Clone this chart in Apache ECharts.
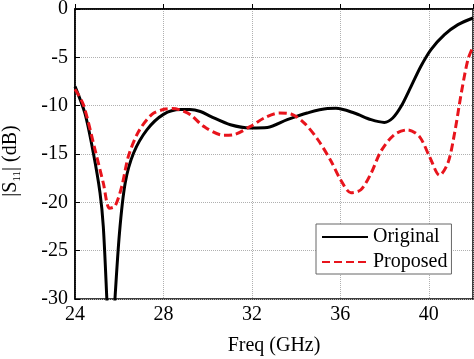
<!DOCTYPE html>
<html>
<head>
<meta charset="utf-8">
<script src="https://cdn.jsdelivr.net/npm/echarts@6/dist/echarts.min.js"></script>
<style>html,body{margin:0;padding:0;background:#fff}#c{width:474px;height:359px}</style>
</head>
<body>
<div id="c"></div>
<script>
var xTicks = [24, 28, 32, 36, 40];
var yTicks = [0, -5, -10, -15, -20, -25, -30];

var origFreq = [24, 24.45, 24.83, 25.13, 25.28, 25.45, 25.6, 25.78, 26.01, 26.27, 26.65, 27.25, 28.0, 28.76, 29.2, 29.67, 30.13, 31.03, 31.94, 32.7, 33.6, 34.5, 35.42, 35.8, 36.63, 37.39, 37.99, 38.37, 38.75, 39.2, 39.65, 40.1, 40.71, 41.32, 42];
var origVal  = [-8.0, -10.8, -14.9, -19.0, -22.5, -30.5, -38, -31, -23.2, -18.0, -14.9, -12.5, -10.9, -10.4, -10.4, -10.6, -11.1, -11.97, -12.3, -12.25, -11.45, -10.76, -10.3, -10.28, -10.76, -11.45, -11.73, -11.28, -10.07, -8.0, -5.9, -4.2, -2.66, -1.62, -0.93];

var propFreq = [24, 24.38, 24.91, 25.28, 25.56, 25.81, 26.12, 26.42, 26.87, 27.48, 28.08, 28.4, 28.76, 29.22, 29.82, 30.73, 31.19, 31.94, 32.55, 33.23, 33.77, 34.37, 34.98, 35.57, 36.02, 36.48, 36.93, 37.39, 37.84, 38.44, 39.05, 39.58, 40.03, 40.49, 40.87, 41.17, 41.47, 41.77, 42];
var propVal  = [-8.3, -9.9, -14.6, -18.0, -20.6, -20.4, -18.3, -15.2, -12.7, -10.9, -10.35, -10.3, -10.45, -10.93, -12.14, -13.07, -13.0, -12.14, -11.28, -10.76, -10.86, -11.8, -13.5, -15.7, -17.7, -19.0, -18.7, -17.0, -14.7, -13.0, -12.5, -13.2, -15.25, -17.2, -15.9, -12.8, -8.7, -5.24, -3.9];

function pairs(xs, ys) { return xs.map(function (x, i) { return [x, ys[i]]; }); }

var font = 'Liberation Serif';
var chart = echarts.init(document.getElementById('c'), null, {renderer: 'canvas'});
chart.setOption({
  animation: false,
  backgroundColor: '#fff',
  grid: {left: 75, right: 1, top: 9, bottom: 60, containLabel: false, outerBoundsMode: 'none',
         show: true, borderColor: '#000', borderWidth: 1.5, backgroundColor: 'transparent'},
  xAxis: {
    type: 'value', min: 24, max: 42, interval: 4,
    name: 'Freq (GHz)', nameLocation: 'middle', nameGap: 37,
    nameTextStyle: {fontFamily: font, fontSize: 20, color: '#000'},
    axisLine: {show: true, lineStyle: {color: '#000', width: 1.5}},
    axisTick: {show: true, inside: true, length: 5, lineStyle: {color: '#000'}},
    axisLabel: {fontFamily: font, fontSize: 20, color: '#000', margin: 6,
      formatter: function (v) { return xTicks.indexOf(v) >= 0 ? String(v) : ''; }},
    splitLine: {show: true, lineStyle: {color: '#b0b0b0', type: 'dotted', width: 1}}
  },
  yAxis: {
    type: 'value', min: -30, max: 0, interval: 5,
    name: '{a||S}{sub|11}{a|| (dB)}', nameLocation: 'middle', nameGap: 52, nameRotate: 90,
    nameTextStyle: {fontFamily: font, fontSize: 20, color: '#000', padding: [0, 14, 0, 0],
      rich: {
        a: {fontFamily: font, fontSize: 20, color: '#000', lineHeight: 24},
        sub: {fontFamily: font, fontSize: 11, color: '#000', lineHeight: 12, verticalAlign: 'bottom'}
      }},
    axisLine: {show: true, lineStyle: {color: '#000', width: 1.5}},
    axisTick: {show: true, inside: true, length: 5, lineStyle: {color: '#000'}},
    axisLabel: {fontFamily: font, fontSize: 20, color: '#000', margin: 7,
      formatter: function (v) { return yTicks.indexOf(v) >= 0 ? String(v) : ''; }},
    splitLine: {show: true, lineStyle: {color: '#b0b0b0', type: 'dotted', width: 1}}
  },
  legend: {
    orient: 'vertical', left: 316, top: 224,
    padding: [3, 4, 2, 5], itemGap: 5, itemWidth: 46, itemHeight: 14,
    backgroundColor: '#fff', borderColor: '#666', borderWidth: 1,
    itemStyle: {opacity: 0},
    textStyle: {fontFamily: font, fontSize: 20, color: '#000'},
    data: ['Original', 'Proposed']
  },
  series: [
    {name: 'Original', type: 'line', data: pairs(origFreq, origVal), smooth: 0.3, symbol: 'none', clip: true,
     lineStyle: {color: '#000', width: 3}, itemStyle: {color: '#000'}},
    {name: 'Proposed', type: 'line', data: pairs(propFreq, propVal), smooth: 0.3, symbol: 'none', clip: true,
     lineStyle: {color: '#e8141c', width: 3, type: [8, 4]}, itemStyle: {color: '#e8141c'}}
  ]
});
</script>
</body>
</html>
